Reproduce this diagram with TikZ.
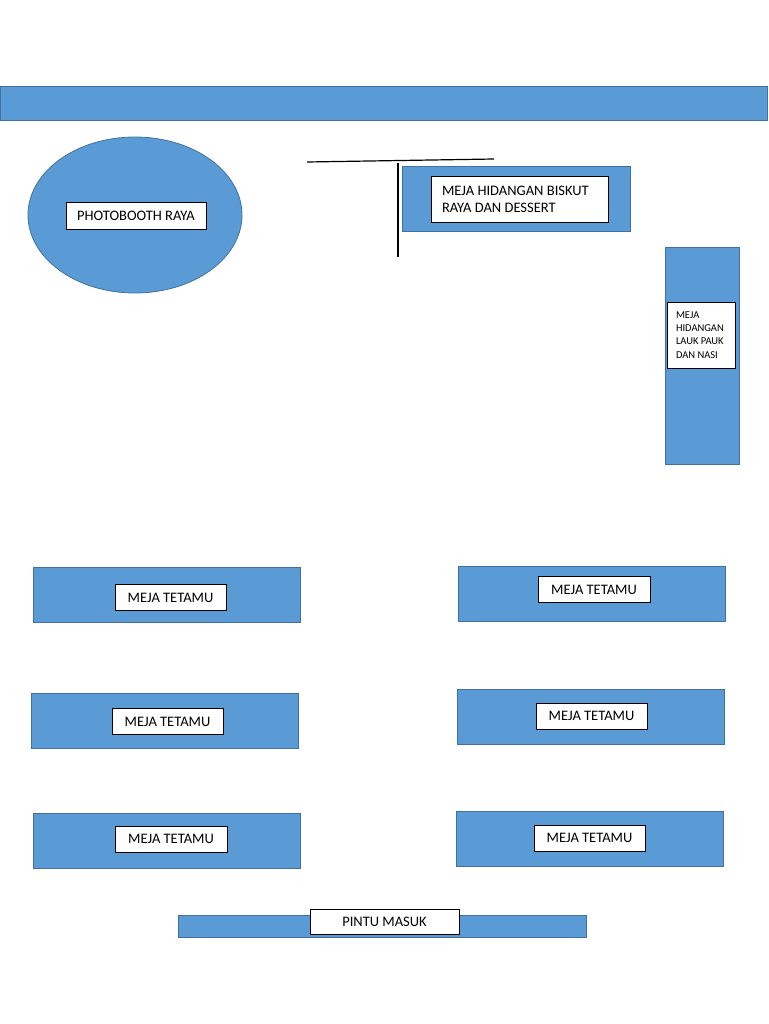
\documentclass[tikz,border=0pt]{standalone}
\usepackage{fontspec}
\setmainfont{Carlito}
\usetikzlibrary{shapes.geometric}
\definecolor{mejablue}{HTML}{5B9BD5}
\definecolor{mejaedge}{HTML}{41719C}

\begin{document}
\begin{tikzpicture}[x=1pt,y=-1pt,
    meja/.style={draw=mejaedge, fill=mejablue, line width=0.8pt, inner sep=0pt},
    labelbox/.style={draw=black, fill=white, line width=0.8pt, inner sep=0pt,
        font=\fontsize{14.5}{17}\selectfont}]
\useasboundingbox (0,0) rectangle (768,1024);
%top wall
\node[meja, minimum width=767, minimum height=34] (wall) at (383.5,103) {};
%photobooth
\node[meja, ellipse, minimum width=214, minimum height=156] (booth) at (135,215) {};
\node[labelbox, minimum width=140, minimum height=27] (boothlabel) at (136,215.5) {PHOTOBOOTH RAYA};
%corner lines
\draw[line width=1.2pt] (307,162) -- (494,159);
\draw[line width=1.2pt] (398,163) -- (398,257);
%dessert table
\node[meja, minimum width=228, minimum height=65] (dessert) at (516,198.5) {};
\node[labelbox, minimum height=46, text width=155, inner xsep=11, align=flush left] (dessertlabel)
    at (519.5,199) {MEJA HIDANGAN BISKUT\\RAYA DAN DESSERT};
%lauk pauk table
\node[meja, minimum width=74, minimum height=217] (lauk) at (702,355.5) {};
\node[labelbox, minimum height=66, text width=50, inner xsep=9, align=flush left,
    font=\fontsize{10.5}{13.3}\selectfont] (lauklabel)
    at (701,335) {MEJA\\HIDANGAN\\LAUK PAUK\\DAN NASI};
%guest tables
\foreach \n/\tx/\ty/\lx/\ly/\lw in {l1/166.5/594.5/170.5/597.5/111, l2/165/720.5/167.5/721.5/111,
        l3/166.5/840.5/171/839/112, r1/591.5/593.5/594/589.5/112,
        r2/590.5/717/591.5/716/111, r3/589.5/838.5/589.5/838/111}
{
    \node[meja, minimum width=267, minimum height=55] (tetamu\n) at (\tx,\ty) {};
    \node[labelbox, minimum width=\lw, minimum height=26] (tetamu\n label) at (\lx,\ly) {MEJA TETAMU};
}
%door
\node[meja, minimum width=408, minimum height=22] (door) at (382,926) {};
\node[labelbox, minimum width=149, minimum height=25] (doorlabel) at (384.5,921.5) {PINTU MASUK};
\end{tikzpicture}
\end{document}
